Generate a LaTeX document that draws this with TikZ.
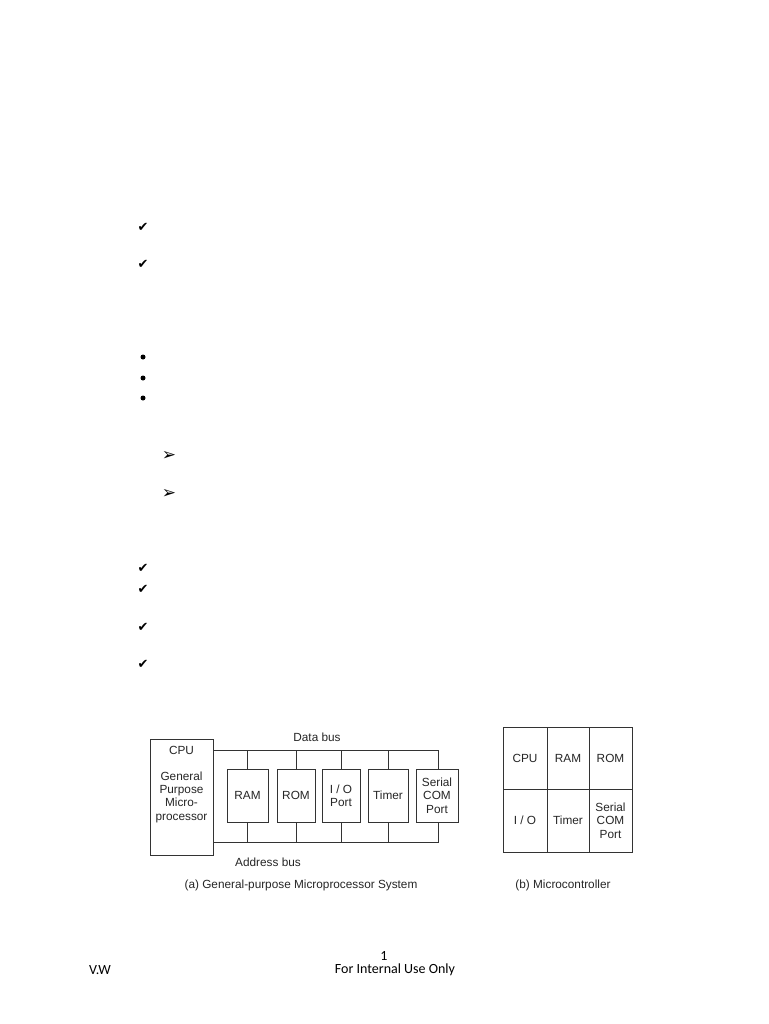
\documentclass[tikz,border=0pt]{standalone}
\usepackage{fontspec}
\setmainfont{Liberation Sans}
\newfontfamily\symfont{DejaVu Sans}
\newfontfamily\footfont{Carlito}
\begin{document}
\begin{tikzpicture}[x=1pt,y=-1pt,
  blk/.style={draw=black!80,line width=0.9pt,inner sep=0pt,align=center,font=\fontsize{11.8}{13.3}\selectfont,text=black!85},
  cell/.style={draw=black!80,line width=0.9pt,inner sep=0pt,align=center,font=\fontsize{11.8}{13.3}\selectfont,text=black!85},
  bus/.style={draw=black!80,line width=0.9pt},
  lbl/.style={inner sep=0pt,font=\fontsize{11.8}{13.3}\selectfont,text=black!85},
  chk/.style={inner sep=0pt,font=\symfont\fontsize{13}{15}\selectfont},
  arw/.style={inner sep=0pt,font=\symfont\fontsize{17}{19}\selectfont},
  dot/.style={circle,fill=black,inner sep=0pt,minimum size=5pt},
  foot/.style={inner sep=0pt,font=\footfont\fontsize{14}{16}\selectfont}]
\useasboundingbox (0,0) rectangle (768,1024);
\fill[white] (0,0) rectangle (768,1024);

% check marks
\node[chk] (c1) at (143,227) {✔};
\node[chk] (c2) at (143,264) {✔};
% bullets
\node[dot] (b1) at (143,357) {};
\node[dot] (b2) at (143,378) {};
\node[dot] (b3) at (143,398) {};
% arrow bullets
\node[arw] (a1) at (169,456) {➢};
\node[arw] (a2) at (169,494) {➢};
% check marks
\node[chk] (c3) at (143,568) {✔};
\node[chk] (c4) at (143,589) {✔};
\node[chk] (c5) at (143,627) {✔};
\node[chk] (c6) at (143,664) {✔};

% (a) general-purpose microprocessor system
\node[blk,minimum width=63pt,minimum height=116pt] (cpu) at (181.5,797) {};
\node[lbl] (cpul) at (181.5,750) {CPU};
\node[lbl,align=center] (gpm) at (181.5,797) {General\\Purpose\\Micro-\\processor};
\node[blk,minimum width=41pt,minimum height=53pt] (ram) at (247.5,795.5) {RAM};
\node[blk,minimum width=38pt,minimum height=53pt] (rom) at (296,795.5) {ROM};
\node[blk,minimum width=38pt,minimum height=53pt] (io) at (341,795.5) {I / O\\Port};
\node[blk,minimum width=40pt,minimum height=53pt] (timer) at (388,795.5) {Timer};
\node[blk,minimum width=42pt,minimum height=53pt] (serial) at (437,795.5) {Serial\\COM\\Port};

\coordinate (dbL) at (213,750);
\coordinate (dbR) at (438,750);
\coordinate (abL) at (213,842);
\coordinate (abR) at (438,842);
\draw[bus] (dbL) -- (dbR) -- (serial.north -| dbR);
\draw[bus] (abL) -- (abR) -- (serial.south -| abR);
\foreach \n in {ram,rom,io,timer}{
  \draw[bus] (\n.north) -- (\n.north |- dbL);
  \draw[bus] (\n.south) -- (\n.south |- abL);
}
\node[lbl] (dbus) at (317,737) {Data bus};
\node[lbl] (abus) at (268,862) {Address bus};
\node[lbl] (capa) at (301,885) {(a) General-purpose Microprocessor System};

% (b) microcontroller
\node[cell,minimum width=44pt,minimum height=62pt] (m1) at (525,758) {CPU};
\node[cell,minimum width=42pt,minimum height=62pt] (m2) at (568,758) {RAM};
\node[cell,minimum width=43pt,minimum height=62pt] (m3) at (610.5,758) {ROM};
\node[cell,minimum width=44pt,minimum height=63pt] (m4) at (525,820.5) {I / O};
\node[cell,minimum width=42pt,minimum height=63pt] (m5) at (568,820.5) {Timer};
\node[cell,minimum width=43pt,minimum height=63pt] (m6) at (610.5,820.5) {Serial\\COM\\Port};
\node[lbl] (capb) at (563,885) {(b) Microcontroller};

% footer
\node[foot] (pg) at (384,956) {1};
\node[foot] (vw) at (100,970) {V.W};
\node[foot] (fiu) at (395,970) {For Internal Use Only};
\end{tikzpicture}
\end{document}
